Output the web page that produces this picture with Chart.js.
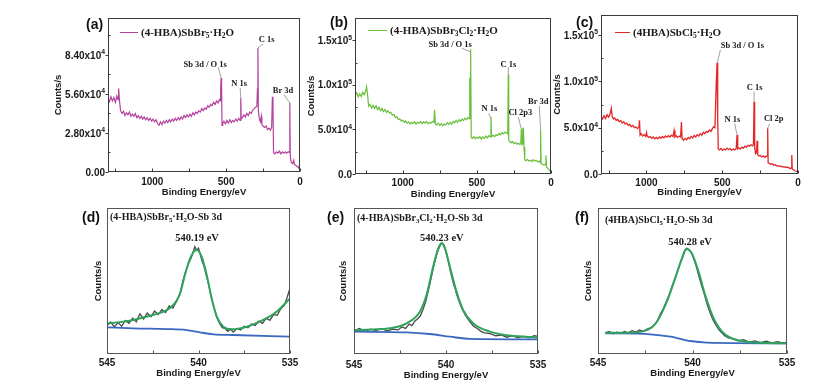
<!DOCTYPE html>
<html><head><meta charset="utf-8">
<script src="https://cdn.jsdelivr.net/npm/chart.js@4.4.1/dist/chart.umd.min.js"></script>
<style>
html,body{margin:0;padding:0;background:#fff;}
#wrap{position:relative;width:823px;height:385px;overflow:hidden;background:#fff;}
canvas{position:absolute;}
</style></head><body><div id="wrap">
<canvas id="ca" width="305" height="200" style="left:0px;top:0px"></canvas>
<canvas id="cb" width="251" height="200" style="left:305px;top:0px"></canvas>
<canvas id="cc" width="275" height="200" style="left:548px;top:0px"></canvas>
<canvas id="cd" width="305" height="185" style="left:0px;top:200px"></canvas>
<canvas id="ce" width="250" height="185" style="left:305px;top:200px"></canvas>
<canvas id="cf" width="263" height="185" style="left:560px;top:200px"></canvas>
</div>
<script>
// ---------- DATA ----------
// Survey spectra: [binding energy (eV), counts/s]
const surveyA = [[1300,53000],[1290,50500],[1280,54000],[1270,51000],[1260,53500],[1250,50000],[1240,54500],[1232,52000],[1228,60000],[1222,51000],[1215,44000],[1205,42000],[1195,43500],[1185,40500],[1175,42500],[1165,41000],[1155,43000],[1145,40000],[1135,41500],[1125,40000],[1115,42000],[1105,39000],[1095,40500],[1085,38500],[1075,40000],[1065,38000],[1055,39500],[1045,37500],[1035,39000],[1025,37000],[1015,38500],[1005,36500],[995,38000],[985,36000],[975,37500],[965,35000],[955,33500],[945,36000],[935,34000],[925,36500],[915,35000],[905,37000],[895,35500],[885,37500],[875,36000],[865,38000],[855,36500],[845,38500],[835,37000],[825,39000],[815,37500],[805,39500],[795,38000],[785,40500],[775,39000],[765,41000],[755,39500],[745,41500],[735,40000],[725,42500],[715,41000],[705,43000],[695,42000],[685,44000],[675,43000],[665,45500],[655,44000],[645,46000],[635,45000],[625,47500],[615,46500],[605,48500],[595,47500],[585,50000],[575,48500],[565,51000],[555,49500],[545,52000],[540,51000],[537,60000],[534,67500],[531,62000],[528,33500],[523,35000],[515,36500],[505,34500],[495,37000],[485,35000],[475,37500],[465,35500],[455,37000],[445,36000],[435,38000],[425,36500],[415,38500],[405,37000],[401,53000],[398,38000],[390,39000],[380,41000],[370,39500],[360,42000],[350,40500],[340,43000],[330,42000],[320,44500],[310,45500],[302,46500],[292,47000],[288,60000],[285,89000],[282,44000],[275,38000],[268,36000],[262,40000],[258,34000],[250,33000],[240,32000],[230,33000],[220,30500],[210,31500],[200,30000],[192,32000],[187,54000],[183,47000],[179,14000],[170,13000],[160,14500],[150,13500],[140,15000],[130,13000],[120,14500],[110,13500],[100,14500],[92,13500],[80,14500],[72,14000],[69,49500],[66,12000],[60,7000],[50,6000],[42,8500],[38,5500],[32,5000],[20,4000],[10,3000],[5,4500],[0,7000]];

const surveyB = [[1320,88000],[1310,91000],[1300,86500],[1290,90000],[1280,87000],[1270,91500],[1260,89000],[1250,93000],[1244,98000],[1238,90000],[1230,76000],[1220,78000],[1210,74000],[1200,77000],[1190,73500],[1180,76500],[1170,72000],[1160,75000],[1150,71000],[1140,73500],[1130,70000],[1120,72500],[1110,69000],[1100,71000],[1090,68500],[1080,69000],[1070,66000],[1060,67000],[1050,63500],[1040,64500],[1030,61000],[1020,62000],[1010,59500],[1000,60500],[990,58000],[980,59500],[970,57000],[960,58500],[950,56000],[940,58000],[930,56500],[920,58500],[910,56000],[900,58000],[890,57000],[880,59000],[870,56500],[860,58500],[850,57000],[840,59000],[830,56500],[820,58000],[810,57000],[800,59000],[790,58000],[785,72000],[780,56000],[770,55000],[760,57000],[750,54500],[740,56500],[730,54000],[720,56000],[710,55000],[700,57500],[690,55500],[680,58000],[670,56000],[660,59000],[650,57500],[640,60000],[630,58000],[620,61000],[610,59000],[600,61500],[590,60000],[580,62500],[570,61000],[560,63500],[552,62000],[548,108000],[546,62000],[542,140000],[538,41000],[530,40000],[520,42000],[510,39500],[500,41500],[490,40000],[480,42000],[470,39000],[460,41500],[450,40000],[440,42500],[430,40500],[420,43000],[410,41500],[405,64000],[401,42000],[390,43500],[380,42000],[370,44000],[360,43000],[350,45500],[340,44000],[330,46500],[320,45000],[310,47000],[300,46000],[292,45000],[288,112000],[285,38000],[278,36500],[270,35000],[260,36500],[250,34000],[240,35500],[230,33500],[220,34500],[210,33000],[203,36000],[200,51000],[196,33000],[190,34000],[186,52000],[182,30000],[177,16000],[170,15000],[160,16500],[150,14500],[140,15500],[130,14000],[120,16000],[110,14500],[100,15500],[90,13500],[80,14500],[73,13000],[70,49000],[67,12000],[55,10500],[45,10000],[37,11000],[34,21000],[30,8000],[20,6000],[10,4000],[0,2000]];

const surveyC = [[1300,62000],[1290,59500],[1280,63000],[1270,60000],[1260,64000],[1250,61500],[1240,65000],[1232,71000],[1226,62000],[1218,59500],[1210,60500],[1200,58000],[1190,59000],[1180,56500],[1170,57500],[1160,55000],[1150,56500],[1140,54000],[1130,55000],[1120,52500],[1110,53500],[1100,51000],[1090,52500],[1080,50000],[1070,51000],[1060,49000],[1050,50500],[1046,58000],[1042,42000],[1035,43500],[1025,41000],[1015,42500],[1005,40500],[1000,45000],[995,41000],[985,39500],[975,40500],[965,38500],[955,40000],[945,38000],[935,39500],[925,38000],[915,40000],[905,38500],[895,40500],[885,39000],[875,41000],[865,39500],[855,41500],[845,40000],[835,42000],[825,40500],[818,47000],[812,40000],[805,41500],[795,39500],[785,41000],[775,40000],[769,56000],[765,38000],[755,36500],[745,38500],[735,37000],[725,39500],[715,38000],[705,40500],[695,39000],[685,41500],[675,40000],[665,42500],[655,41000],[645,43500],[635,42000],[625,45000],[615,43500],[605,46000],[595,45000],[585,47500],[575,46000],[565,49000],[556,51000],[548,50000],[540,96000],[534,120000],[530,60000],[526,27000],[518,26000],[508,27500],[498,25500],[488,27000],[478,26000],[468,28000],[458,26500],[448,27500],[438,25500],[428,27000],[418,26000],[408,27500],[402,42000],[398,27000],[390,28000],[380,27000],[370,29000],[360,28000],[350,30000],[340,29000],[330,31000],[320,30000],[310,31500],[300,30500],[294,32000],[290,78000],[286,29000],[280,22000],[274,23000],[270,36000],[266,21000],[258,19500],[248,20000],[238,18500],[228,19500],[218,18000],[210,19000],[204,19500],[200,49500],[197,12000],[190,11500],[180,10500],[170,11000],[160,9500],[150,10000],[140,8500],[130,9000],[120,8000],[110,8500],[100,7500],[90,8000],[80,7000],[70,7500],[60,6500],[50,6000],[44,6500],[41,20500],[38,5500],[30,4500],[20,3500],[10,3000],[0,1500]];

// Sb 3d high-resolution spectra (arbitrary units): [binding energy, intensity]
const dMeasured = [[545.0,19.5],[544.8,22.0],[544.6,18.5],[544.4,21.5],[544.2,19.0],[544.0,23.0],[543.8,21.0],[543.6,24.5],[543.4,22.0],[543.2,27.5],[543.0,24.0],[542.8,28.0],[542.6,25.5],[542.4,29.5],[542.2,27.0],[542.0,30.5],[541.8,28.5],[541.6,33.0],[541.4,31.5],[541.2,36.0],[541.0,42.0],[540.85,50.0],[540.7,56.5],[540.55,62.0],[540.4,66.0],[540.3,69.5],[540.2,73.5],[540.1,71.0],[540.0,72.5],[539.9,68.0],[539.8,63.5],[539.7,60.0],[539.6,55.0],[539.5,50.5],[539.4,45.0],[539.3,39.0],[539.2,34.0],[539.1,29.5],[539.0,25.0],[538.85,21.0],[538.7,18.0],[538.55,17.5],[538.4,15.5],[538.25,17.0],[538.1,15.0],[537.9,17.5],[537.7,16.5],[537.5,19.0],[537.3,18.0],[537.1,20.5],[536.9,19.5],[536.7,22.5],[536.5,21.0],[536.3,24.5],[536.1,23.0],[535.9,27.0],[535.7,26.5],[535.5,31.0],[535.3,33.5],[535.15,39.0],[535.0,45.0]];
const dFit = [[545,21.0],[544.2,22.0],[543.56,23.3],[542.65,26.2],[542.1,28.2],[541.74,30.1],[541.38,33.6],[541.2,36.5],[541.0,41.6],[540.85,49.0],[540.64,58.7],[540.37,67.8],[540.1,71.2],[539.83,66.7],[539.55,54.1],[539.28,38.1],[539.0,25.6],[538.64,18.7],[538.19,16.9],[537.37,18.7],[536.46,23.3],[535.73,29.0],[535.0,38.1]];
const dBackground = [[545,18.3],[543.56,17.6],[541.74,17.1],[540.64,16.4],[539.92,14.8],[539.19,13.5],[538.1,13.0],[535,11.9]];

const eMeasured = [[545,16.0],[544.7,17.5],[544.4,15.5],[544.1,17.0],[543.8,16.0],[543.5,17.5],[543.2,15.8],[542.9,17.0],[542.6,16.5],[542.4,18.5],[542.2,17.5],[542.0,20.5],[541.85,19.5],[541.7,22.5],[541.55,24.0],[541.4,26.0],[541.25,30.5],[541.1,36.0],[540.95,44.0],[540.8,52.5],[540.65,61.0],[540.5,68.5],[540.4,72.0],[540.3,75.0],[540.2,76.0],[540.1,74.5],[540.0,70.5],[539.9,65.0],[539.8,59.0],[539.7,53.5],[539.6,48.5],[539.5,44.5],[539.4,40.0],[539.3,36.5],[539.2,33.0],[539.05,29.0],[538.9,25.5],[538.7,22.0],[538.5,19.0],[538.3,17.5],[538.1,15.5],[537.9,14.5],[537.6,14.0],[537.3,12.5],[537.0,13.0],[536.7,11.5],[536.4,12.5],[536.1,11.0],[535.8,12.0],[535.5,11.0],[535.2,12.5],[535.0,12.0]];
const eFit = [[545,16.4],[544,16.8],[543.05,17.6],[542.14,21.0],[541.42,29.0],[541.06,40.4],[540.7,59.8],[540.42,72.4],[540.24,75.8],[540.06,72.4],[539.79,59.8],[539.43,42.7],[539.07,30.1],[538.53,21.0],[537.62,15.3],[536.54,12.6],[535,11.4]];
const eBackground = [[545,15.3],[542.14,14.8],[540.88,13.7],[539.79,11.9],[538.7,10.3],[535,10.0]];

const fMeasured = [[544.6,14.5],[544.4,15.5],[544.2,13.8],[544.0,15.0],[543.8,14.0],[543.6,15.5],[543.4,14.5],[543.2,16.0],[543.0,15.0],[542.8,16.5],[542.6,15.5],[542.4,17.0],[542.2,18.0],[542.0,20.0],[541.85,23.0],[541.7,27.5],[541.55,31.0],[541.4,35.5],[541.25,40.0],[541.1,45.5],[540.95,51.0],[540.8,56.5],[540.65,62.0],[540.5,67.0],[540.4,70.5],[540.3,72.5],[540.2,71.5],[540.1,70.5],[540.0,67.5],[539.9,64.0],[539.8,60.0],[539.7,55.0],[539.6,50.5],[539.5,46.0],[539.4,42.0],[539.3,37.5],[539.2,33.0],[539.05,27.5],[538.9,23.0],[538.75,19.5],[538.6,16.5],[538.45,14.5],[538.3,12.5],[538.1,11.0],[537.9,10.5],[537.6,9.0],[537.3,9.8],[537.0,8.2],[536.7,9.0],[536.4,7.8],[536.1,8.8],[535.8,7.6],[535.5,8.5],[535.2,7.5],[535.0,8.2]];
const fFit = [[544.61,14.6],[543.47,14.6],[542.41,16.4],[541.88,22.1],[541.36,35.8],[540.92,51.8],[540.56,65.5],[540.34,71.9],[540.04,69.0],[539.68,56.4],[539.33,40.4],[538.88,24.4],[538.35,14.2],[537.65,9.6],[536.59,7.8],[535,7.3]];
const fBackground = [[544.61,14.2],[542.24,13.5],[541.17,11.9],[540.11,8.9],[539.24,7.8],[535,7.3]];

// Tick values and labels (^ marks a superscript character)
const surveyXTicks = [0, 500, 1000];
const surveyXLabels = ['0', '500', '1000'];
const surveyXMinor = [250, 750, 1250];
const aYTicks = [0, 28000, 56000, 84000];
const aYLabels = ['0.00', '2.80x10^4', '5.60x10^4', '8.40x10^4'];
const aYMinor = [14000, 42000, 70000, 98000];
const bcYTicks = [0, 50000, 100000, 150000];
const bcYLabels = ['0.0', '5.0x10^4', '1.0x10^5', '1.5x10^5'];
const bcYMinor = [25000, 75000, 125000];
const sbXTicks = [545, 540, 535];
const sbXLabels = ['545', '540', '535'];
const sbXMinor = [542.5, 537.5];

// Peak annotations: text at (energy, value), leader line between two data points
const aPeaks = [
  {text:'Sb 3d / O 1s', x:642, y:77500, line:[[554,75400],[534,67500]]},
  {text:'N 1s', x:412, y:63900, line:[[405,60300],[401,53000]]},
  {text:'C 1s', x:225, y:95500, line:[[250,91900],[285,89000]]},
  {text:'Br 3d', x:115, y:58900, line:[[108,55300],[69,49500]]}
];
const bPeaks = [
  {text:'Sb 3d / O 1s', x:680, y:146000, line:[[600,141000],[543,137000]]},
  {text:'N 1s', x:415, y:73800, line:[[421,68000],[406,63000]]},
  {text:'C 1s', x:287, y:124000, line:[[288,120000],[288,112000]]},
  {text:'Cl 2p3', x:207, y:69700, line:[[221,64000],[201,51000]]},
  {text:'Br 3d', x:86, y:82000, line:[[79,76400],[70,49000]]}
];
const cPeaks = [
  {text:'Sb 3d / O 1s', x:367, y:139000, line:[[512,134000],[533,120000]]},
  {text:'C 1s', x:286, y:94000, line:[[290,89000],[290,78000]]},
  {text:'N 1s', x:433, y:59000, line:[[418,54700],[402,42000]]},
  {text:'Cl 2p', x:160, y:60000, line:[[187,54000],[200,49500]]}
];
const dPeaks = [{text:'540.19 eV', x:540.08, y:79.9, big:true}];
const ePeaks = [{text:'540.23 eV', x:540.23, y:80.3, big:true}];
const fPeaks = [{text:'540.28 eV', x:540.13, y:77.4, big:true}];

// ---------- DRAWING ----------
const SANS = '"Liberation Sans", Arial, Helvetica, sans-serif';
const SERIF = '"Liberation Serif", "Times New Roman", serif';

// '_X' = subscript char, '^X' = superscript char
function drawRich(ctx, str, x, y, size, align, family) {
  const parts = [];
  for (let i = 0; i < str.length; i++) {
    const c = str[i];
    if (c === '_' || c === '^') { parts.push({t: str[i+1], mode: c}); i++; }
    else if (parts.length && !parts[parts.length-1].mode) parts[parts.length-1].t += c;
    else parts.push({t: c, mode: null});
  }
  const f = s => 'bold ' + s + 'px ' + family;
  let w = 0;
  for (const q of parts) { ctx.font = f(q.mode ? size*0.68 : size); q.w = ctx.measureText(q.t).width; w += q.w; }
  let cx = align === 'center' ? x - w/2 : align === 'right' ? x - w : x;
  ctx.textAlign = 'left'; ctx.textBaseline = 'alphabetic';
  const base = y + size*0.36;
  for (const q of parts) {
    ctx.font = f(q.mode ? size*0.68 : size);
    const dy = q.mode === '_' ? size*0.22 : q.mode === '^' ? -size*0.42 : 0;
    ctx.fillText(q.t, cx, base + dy);
    cx += q.w;
  }
}

function decor(p) {
  return {
    id: 'decor',
    afterDraw(chart) {
      const {ctx, chartArea: a, scales: {x, y}} = chart;
      ctx.save();
      ctx.strokeStyle = p.frame; ctx.lineWidth = 1;
      const L = Math.round(a.left) + 0.5, R = Math.round(a.right) - 0.5;
      const T = Math.round(a.top) + 0.5, B = Math.round(a.bottom) - 0.5;
      ctx.beginPath();
      for (const v of p.xTicks.concat(p.xMinor)) {
        const px = Math.round(x.getPixelForValue(v)) + 0.5;
        ctx.moveTo(px, B); ctx.lineTo(px, B - 3);
      }
      if (p.yTicks) {
        for (const v of p.yTicks) { const py = Math.round(y.getPixelForValue(v)) + 0.5; ctx.moveTo(L, py); ctx.lineTo(L - 3, py); }
        for (const v of p.yMinor) { const py = Math.round(y.getPixelForValue(v)) + 0.5; ctx.moveTo(L, py); ctx.lineTo(L + 2, py); }
      }
      ctx.stroke();
      ctx.strokeRect(L, T, R - L, B - T);
      ctx.fillStyle = '#1a1a1a';
      if (p.yTicks) {
        p.yTicks.forEach((v, i) => drawRich(ctx, p.yLabels[i], a.left - 3, y.getPixelForValue(v), 10, 'right', SANS));
      }
      for (const k of p.peaks) {
        if (k.line) {
          ctx.strokeStyle = '#8a8a8a'; ctx.lineWidth = 0.8;
          ctx.beginPath();
          ctx.moveTo(x.getPixelForValue(k.line[0][0]), y.getPixelForValue(k.line[0][1]));
          ctx.lineTo(x.getPixelForValue(k.line[1][0]), y.getPixelForValue(k.line[1][1]));
          ctx.stroke();
        }
        ctx.fillStyle = '#1a1a1a';
        drawRich(ctx, k.text, x.getPixelForValue(k.x), y.getPixelForValue(k.y), k.big ? 10.5 : 8.5, 'center', SERIF);
      }
      ctx.translate(-p.ox, -p.oy);
      ctx.fillStyle = '#111';
      ctx.font = 'bold 14px ' + SANS; ctx.textAlign = 'left'; ctx.textBaseline = 'middle';
      ctx.fillText(p.letter.text, p.letter.x, p.letter.y);
      if (p.legend) {
        if (p.legend.line) {
          ctx.strokeStyle = p.series[0].color; ctx.lineWidth = 1;
          ctx.beginPath(); ctx.moveTo(p.legend.line[0], p.legend.y + 0.5); ctx.lineTo(p.legend.line[1], p.legend.y + 0.5); ctx.stroke();
        }
        ctx.fillStyle = '#1a1a1a';
        drawRich(ctx, p.legend.text, p.legend.tx, p.legend.y, p.legend.size, 'left', SERIF);
      }
      ctx.restore();
    }
  };
}

function makePanel(id, p) {
  const datasets = p.series.map(s => ({
    data: s.points.map(q => ({x: q[0], y: q[1]})),
    borderColor: s.color, borderWidth: s.width, pointRadius: 0, fill: false,
    tension: 0, cubicInterpolationMode: s.smooth ? 'monotone' : 'default', order: s.order
  }));
  const tickFont = {family: SANS, size: 10, weight: 'bold'};
  const titleFont = {family: SANS, size: 9.5, weight: 'bold'};
  const cv = document.getElementById(id);
  // software-rasterised 2D context (same context object is then used by Chart.js)
  cv.getContext('2d', {willReadFrequently: true});
  p.ox = parseFloat(cv.style.left); p.oy = parseFloat(cv.style.top);
  new Chart(cv, {
    type: 'line',
    data: {datasets},
    options: {
      responsive: false, animation: false, devicePixelRatio: 1, events: [],
      layout: {padding: p.pad},
      plugins: {legend: {display: false}, tooltip: {enabled: false}},
      scales: {
        x: {
          type: 'linear', reverse: true, min: p.xMin, max: p.xMax,
          afterBuildTicks: s => { s.ticks = p.xTicks.map(v => ({value: v})); },
          afterFit: s => { s.height = p.xH; s.paddingLeft = 0; s.paddingRight = 0; },
          grid: {display: false, drawTicks: false}, border: {display: false},
          ticks: {font: tickFont, color: '#1a1a1a', padding: p.xTickPad, maxRotation: 0, minRotation: 0, autoSkip: false,
                  callback: v => p.xLabels[p.xTicks.indexOf(v)]},
          title: {display: true, text: 'Binding Energy/eV', font: titleFont, color: '#1a1a1a', padding: 0}
        },
        y: {
          type: 'linear', min: p.yMin, max: p.yMax,
          afterBuildTicks: s => { s.ticks = (p.yTicks || []).map(v => ({value: v})); },
          afterFit: s => { s.width = p.yW; s.paddingTop = 0; s.paddingBottom = 0; },
          grid: {display: false, drawTicks: false}, border: {display: false},
          ticks: {display: false},
          title: {display: true, text: 'Counts/s', font: titleFont, color: '#1a1a1a', padding: 0}
        }
      }
    },
    plugins: [decor(p)]
  });
}

const FRAME = '#3a3a3a';
makePanel('ca', {
  pad: {left: 52.3, top: 18, right: 5, bottom: 2.3}, yW: 55.7, xH: 25.7, xTickPad: 4,
  xMin: 0, xMax: 1300, yMin: 0, yMax: 110500,
  xTicks: surveyXTicks, xLabels: surveyXLabels, xMinor: surveyXMinor,
  yTicks: aYTicks, yLabels: aYLabels, yMinor: aYMinor, frame: FRAME,
  series: [{points: surveyA, color: '#b4419e', width: 1.2, order: 0}],
  letter: {text: '(a)', x: 86, y: 25},
  legend: {line: [120, 138], y: 32, tx: 141, text: '(4-HBA)SbBr_5·H_2O', size: 11},
  peaks: aPeaks
});
makePanel('cb', {
  pad: {left: 0.3, top: 18, right: 5, bottom: 0.3}, yW: 49.7, xH: 25.7, xTickPad: 3,
  xMin: 0, xMax: 1322, yMin: 0, yMax: 175000,
  xTicks: surveyXTicks, xLabels: surveyXLabels, xMinor: surveyXMinor,
  yTicks: bcYTicks, yLabels: bcYLabels, yMinor: bcYMinor, frame: FRAME,
  series: [{points: surveyB, color: '#68bf3a', width: 1.2, order: 0}],
  letter: {text: '(b)', x: 330, y: 23},
  legend: {line: [368, 387], y: 30, tx: 390, text: '(4-HBA)SbBr_3Cl_2·H_2O', size: 11},
  peaks: bPeaks
});
makePanel('cc', {
  pad: {left: 3.3, top: 15, right: 25, bottom: 2.3}, yW: 49.7, xH: 23.7, xTickPad: 3,
  xMin: 0, xMax: 1300, yMin: 0, yMax: 171700,
  xTicks: surveyXTicks, xLabels: surveyXLabels, xMinor: surveyXMinor,
  yTicks: bcYTicks, yLabels: bcYLabels, yMinor: bcYMinor, frame: FRAME,
  series: [{points: surveyC, color: '#e42626', width: 1.3, order: 0}],
  letter: {text: '(c)', x: 576, y: 23},
  legend: {line: [615, 630], y: 32, tx: 633, text: '(4HBA)SbCl_5·H_2O', size: 11},
  peaks: cPeaks
});
const GRAY = '#4a4a4a', GREEN = '#2fa35b', BLUE = '#3b68c0';
makePanel('cd', {
  pad: {left: 92.3, top: 8, right: 15, bottom: 6.3}, yW: 14.7, xH: 24.7, xTickPad: 3,
  xMin: 535, xMax: 545, yMin: 0, yMax: 100,
  xTicks: sbXTicks, xLabels: sbXLabels, xMinor: sbXMinor, frame: '#555',
  series: [
    {points: dFit, color: GREEN, width: 2, smooth: true, order: 0},
    {points: dBackground, color: BLUE, width: 1.8, smooth: true, order: 1},
    {points: dMeasured, color: GRAY, width: 1.3, order: 2}
  ],
  letter: {text: '(d)', x: 82, y: 218},
  legend: {y: 216, tx: 110, text: '(4-HBA)SbBr_5·H_2O-Sb 3d', size: 10},
  peaks: dPeaks
});
makePanel('ce', {
  pad: {left: 32.3, top: 8, right: 17, bottom: 4.3}, yW: 16.7, xH: 26.7, xTickPad: 5,
  xMin: 535, xMax: 545, yMin: 0, yMax: 100,
  xTicks: sbXTicks, xLabels: sbXLabels, xMinor: sbXMinor, frame: '#555',
  series: [
    {points: eFit, color: GREEN, width: 2, smooth: true, order: 0},
    {points: eBackground, color: BLUE, width: 1.8, smooth: true, order: 1},
    {points: eMeasured, color: GRAY, width: 1.3, order: 2}
  ],
  letter: {text: '(e)', x: 327, y: 218},
  legend: {y: 217, tx: 357, text: '(4-HBA)SbBr_3Cl_2·H_2O-Sb 3d', size: 10},
  peaks: ePeaks
});
makePanel('cf', {
  pad: {left: 22.3, top: 8, right: 36, bottom: 6.3}, yW: 15.7, xH: 24.7, xTickPad: 3,
  xMin: 535, xMax: 545, yMin: 0, yMax: 100,
  xTicks: sbXTicks, xLabels: sbXLabels, xMinor: sbXMinor, frame: '#555',
  series: [
    {points: fFit, color: GREEN, width: 2, smooth: true, order: 0},
    {points: fBackground, color: BLUE, width: 1.8, smooth: true, order: 1},
    {points: fMeasured, color: GRAY, width: 1.3, order: 2}
  ],
  letter: {text: '(f)', x: 575, y: 218},
  legend: {y: 219, tx: 605, text: '(4HBA)SbCl_5·H_2O-Sb 3d', size: 10},
  peaks: fPeaks
});
</script>
</body></html>
